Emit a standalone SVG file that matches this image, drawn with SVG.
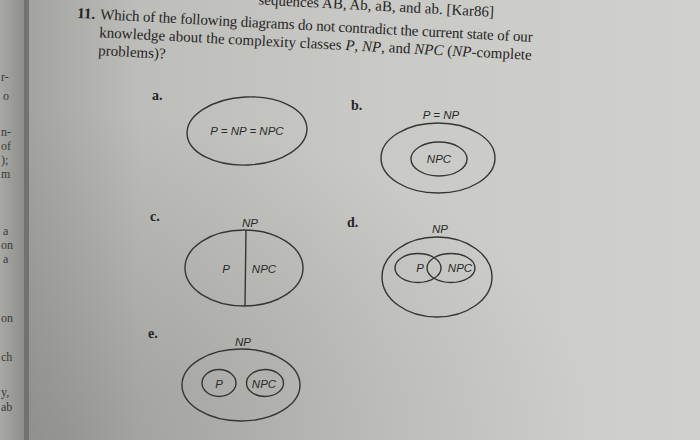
<svg xmlns="http://www.w3.org/2000/svg" width="700" height="440" viewBox="0 0 700 440">
<defs>
<linearGradient id="page" x1="0" y1="0" x2="1" y2="0">
 <stop offset="0" stop-color="#9c9c98"/>
 <stop offset="0.2" stop-color="#bdbdb9"/>
 <stop offset="0.55" stop-color="#c9c9c5"/>
 <stop offset="1" stop-color="#d0d0cc"/>
</linearGradient>
<radialGradient id="shade" cx="0.1" cy="1" r="0.75">
 <stop offset="0" stop-color="#6a6a66" stop-opacity="0.35"/>
 <stop offset="1" stop-color="#6a6a66" stop-opacity="0"/>
</radialGradient>
<linearGradient id="left" x1="0" y1="0" x2="1" y2="0">
 <stop offset="0" stop-color="#a8a8a4"/>
 <stop offset="1" stop-color="#8e8e8a"/>
</linearGradient>
</defs>
<style>
.q{font-family:"Liberation Serif",serif;font-size:15px;fill:#262626}
.i{font-style:italic}
.b{font-weight:bold}
.lbl{font-family:"Liberation Serif",serif;font-size:14px;font-weight:bold;fill:#262626}
.set{fill:none;stroke:#353535;stroke-width:1.4}
.t{font-family:"Liberation Sans",sans-serif;font-style:italic;font-size:11.5px;fill:#2a2a2a;text-anchor:middle}
.m{font-family:"Liberation Serif",serif;font-size:12px;fill:#3a3a36}
</style>
<rect x="0" y="0" width="700" height="440" fill="url(#page)"/>
<rect x="0" y="0" width="700" height="440" fill="url(#shade)"/>
<rect x="0" y="0" width="24" height="440" fill="url(#left)"/>
<rect x="24" y="0" width="5" height="440" fill="#727270"/>
<g id="margin">
<text class="m" x="1" y="81">r-</text>
<text class="m" x="3" y="100">o</text>
<text class="m" x="1" y="136">n-</text>
<text class="m" x="1" y="150">of</text>
<text class="m" x="1" y="164">);</text>
<text class="m" x="1" y="178">m</text>
<text class="m" x="3" y="235">a</text>
<text class="m" x="1" y="249">on</text>
<text class="m" x="3" y="263">a</text>
<text class="m" x="1" y="322">on</text>
<text class="m" x="1" y="361">ch</text>
<text class="m" x="1" y="396">y,</text>
<text class="m" x="1" y="411">ab</text>
</g>
<g id="question" transform="rotate(3 77 18)">
<text class="q" x="493" y="-5" text-anchor="end">sequences AB, Ab, aB, and ab. [Kar86]</text>
<text class="q b" x="77" y="18">11.</text>
<text class="q" x="100" y="18" textLength="433" lengthAdjust="spacing">Which of the following diagrams do not contradict the current state of our</text>
<text class="q" x="100" y="36" textLength="433" lengthAdjust="spacing">knowledge about the complexity classes <tspan class="i">P</tspan>, <tspan class="i">NP</tspan>, and <tspan class="i">NPC</tspan> (<tspan class="i">NP</tspan>-complete</text>
<text class="q" x="100" y="54">problems)?</text>
</g>
<g id="diagram-a">
<text class="lbl" x="152" y="100">a.</text>
<ellipse class="set" cx="247" cy="131" rx="60" ry="34" transform="rotate(-3 247 131)"/>
<text class="t" x="247" y="135">P = NP = NPC</text>
</g>
<g id="diagram-b">
<text class="lbl" x="351" y="110">b.</text>
<text class="t" x="441" y="119">P = NP</text>
<ellipse class="set" cx="438" cy="158" rx="57" ry="35"/>
<ellipse class="set" cx="439" cy="159" rx="28" ry="17"/>
<text class="t" x="439" y="163">NPC</text>
</g>
<g id="diagram-c">
<text class="lbl" x="150" y="221">c.</text>
<text class="t" x="250" y="227">NP</text>
<ellipse class="set" cx="244" cy="268" rx="59" ry="38"/>
<line class="set" x1="246" y1="230" x2="245" y2="306"/>
<text class="t" x="226" y="273">P</text>
<text class="t" x="264" y="273">NPC</text>
</g>
<g id="diagram-d">
<text class="lbl" x="347" y="227">d.</text>
<text class="t" x="440" y="233">NP</text>
<ellipse class="set" cx="437" cy="277" rx="55" ry="40"/>
<ellipse class="set" cx="418" cy="268" rx="23" ry="14.5"/>
<ellipse class="set" cx="451" cy="268" rx="24" ry="14.5"/>
<text class="t" x="420" y="272">P</text>
<text class="t" x="460" y="272">NPC</text>
</g>
<g id="diagram-e">
<text class="lbl" x="148" y="338">e.</text>
<text class="t" x="243" y="346">NP</text>
<ellipse class="set" cx="241" cy="385" rx="59" ry="36"/>
<ellipse class="set" cx="219" cy="383" rx="17" ry="13.5"/>
<ellipse class="set" cx="265" cy="383" rx="18.5" ry="13.5"/>
<text class="t" x="219" y="388">P</text>
<text class="t" x="264" y="388">NPC</text>
</g>
<g id="connectors"/>
</svg>
